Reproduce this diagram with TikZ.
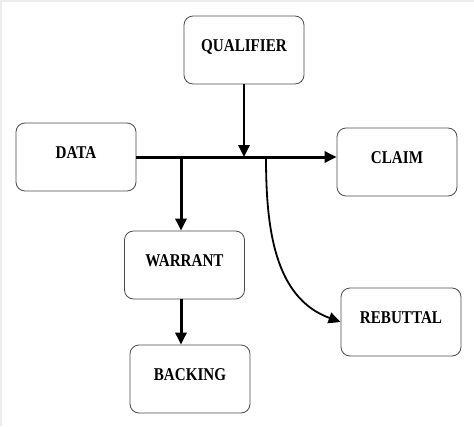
\documentclass[tikz,border=0pt]{standalone}
\usepackage{fontspec}
\setmainfont{Liberation Serif}
\newfontfamily\boxfont[FakeStretch=0.84]{Liberation Serif}
\usetikzlibrary{arrows.meta}
\begin{document}
\begin{tikzpicture}[x=1pt,y=-1pt,
    box/.style = {draw=gray!60!black, line width=0.8pt, rounded corners=9pt,
                  minimum width=120pt, minimum height=68pt, text depth=8pt,
                  font=\boxfont\fontsize{18}{20}\selectfont\bfseries},
    link/.style = {line width=3pt, -{Triangle[length=12pt,width=11pt]}}]
				\useasboundingbox (0,0) rectangle (474,426);
				\fill[gray!15] (0,0) rectangle (474,426);
				\fill[white] (2,2) rectangle (474,426);

				\node[box] (qualifier) at (244,50) {QUALIFIER};
				\node[box] (data) at (76,157) {DATA};
				\node[box] (claim) at (397,162) {CLAIM};
				\node[box] (warrant) at (184.5,265) {WARRANT};
				\node[box] (rebuttal) at (401,322) {REBUTTAL};
				\node[box] (backing) at (190,379) {BACKING};

				\coordinate (wj) at (181,157);
				\coordinate (rj) at (266,157);

				\draw[link] (data.east) -- (data.east -| claim.west);
				\draw[link, line width=2.5pt] (qualifier.south) -- (qualifier.south |- data.east);
				\draw[link] (wj) -- (wj |- warrant.north);
				\draw[link] (wj |- warrant.south) -- (wj |- backing.north);
				\draw[link, line width=1.8pt] (rj) to[out=-90, in=160] (rebuttal.west);

			\end{tikzpicture}
\end{document}
